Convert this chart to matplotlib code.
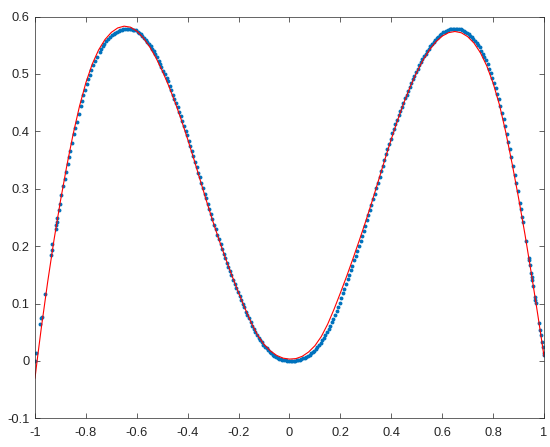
import matplotlib
matplotlib.use("Agg")
import matplotlib.pyplot as plt

plt.rcParams['font.family'] = ['Liberation Sans', 'DejaVu Sans']
plt.rcParams['axes.unicode_minus'] = False

# Sampled data points (blue dots)
dot_x = [
    -1.000, -0.996, -0.980, -0.976, -0.974, -0.961, -0.938, -0.935, -0.932, -0.919, -0.917, -0.915, -0.912, -0.906, -0.902,
    -0.896, -0.889, -0.884, -0.878, -0.872, -0.866, -0.861, -0.855, -0.847, -0.842, -0.836, -0.829,
    -0.821, -0.816, -0.810, -0.804, -0.797, -0.791, -0.785, -0.779, -0.771, -0.764, -0.757,
    -0.746, -0.739, -0.733, -0.728, -0.720, -0.713, -0.706, -0.697, -0.690, -0.684, -0.678,
    -0.671, -0.665, -0.659, -0.653, -0.646, -0.640, -0.634, -0.628, -0.621, -0.615, -0.609, -0.603,
    -0.596, -0.590, -0.583, -0.578, -0.571, -0.565, -0.558, -0.553, -0.546, -0.540, -0.534, -0.529,
    -0.521, -0.514, -0.508, -0.503, -0.496, -0.490, -0.483, -0.478, -0.471, -0.464, -0.457, -0.452,
    -0.446, -0.440, -0.434, -0.428, -0.421, -0.415, -0.408, -0.403, -0.396, -0.390, -0.384, -0.378,
    -0.371, -0.365, -0.358, -0.353, -0.346, -0.340, -0.333, -0.328, -0.321, -0.315, -0.309, -0.303,
    -0.296, -0.290, -0.283, -0.278, -0.271, -0.265, -0.258, -0.253, -0.246, -0.240, -0.234, -0.228,
    -0.221, -0.215, -0.209, -0.203, -0.196, -0.190, -0.184, -0.178, -0.171, -0.165, -0.159, -0.153,
    -0.146, -0.140, -0.134, -0.128, -0.121, -0.115, -0.109, -0.103, -0.096, -0.090, -0.084, -0.078,
    -0.071, -0.065, -0.059, -0.053, -0.046, -0.040, -0.034, -0.028, -0.021, -0.015, -0.009, -0.003,
    0.004, 0.010, 0.016, 0.022, 0.029, 0.035, 0.041, 0.047, 0.054, 0.060, 0.066, 0.072,
    0.079, 0.085, 0.091, 0.097, 0.104, 0.110, 0.116, 0.122, 0.129, 0.135, 0.141, 0.147,
    0.154, 0.160, 0.166, 0.172, 0.179, 0.185, 0.191, 0.197, 0.204, 0.210, 0.216, 0.222,
    0.229, 0.235, 0.241, 0.247, 0.254, 0.260, 0.266, 0.272, 0.279, 0.285, 0.291, 0.297,
    0.304, 0.310, 0.316, 0.322, 0.329, 0.335, 0.341, 0.347, 0.354, 0.360, 0.366, 0.372,
    0.379, 0.385, 0.391, 0.397, 0.404, 0.410, 0.416, 0.422, 0.429, 0.435, 0.441, 0.447,
    0.454, 0.460, 0.466, 0.472, 0.479, 0.485, 0.491, 0.497, 0.504, 0.510, 0.516, 0.522,
    0.529, 0.535, 0.541, 0.547, 0.554, 0.560, 0.566, 0.572, 0.579, 0.585, 0.591, 0.597,
    0.604, 0.610, 0.616, 0.622, 0.629, 0.635, 0.641, 0.647, 0.654, 0.660, 0.666, 0.672,
    0.679, 0.685, 0.691, 0.697, 0.704, 0.710, 0.716, 0.722, 0.729, 0.735, 0.741, 0.747,
    0.754, 0.760, 0.766, 0.772, 0.779, 0.785, 0.791, 0.797, 0.804, 0.810, 0.816, 0.822,
    0.829, 0.835, 0.841, 0.847, 0.854, 0.860, 0.866, 0.872, 0.879, 0.885, 0.891, 0.897,
    0.904, 0.908, 0.912, 0.916, 0.930, 0.941, 0.942, 0.945, 0.950, 0.952, 0.954, 0.958,
    0.964, 0.966, 0.968, 0.980, 0.985, 0.989, 0.993, 0.996, 0.999, 1.000,
]
dot_y = [
    0.000, 0.013, 0.064, 0.074, 0.076, 0.117, 0.185, 0.194, 0.203, 0.229, 0.236, 0.242, 0.249, 0.263, 0.274,
    0.2883, 0.3046, 0.3162, 0.330, 0.3434, 0.356, 0.3666, 0.3794, 0.3958, 0.4054, 0.4169, 0.4303,
    0.4446, 0.4528, 0.4626, 0.4724, 0.483, 0.4909, 0.4988, 0.5067, 0.5158, 0.5226, 0.5293,
    0.5389, 0.5439, 0.5482, 0.5518, 0.5566, 0.5602, 0.5639, 0.568, 0.5702, 0.5721, 0.574,
    0.5755, 0.5762, 0.5769, 0.5776, 0.578, 0.5782, 0.5784, 0.5785, 0.578, 0.5773, 0.5766, 0.5759,
    0.5739, 0.5716, 0.5688, 0.5668, 0.5631, 0.5597, 0.5557, 0.5528, 0.5479, 0.5436, 0.5392, 0.5355,
    0.5289, 0.5226, 0.5172, 0.5127, 0.5058, 0.4996, 0.4923, 0.4871, 0.4795, 0.4713, 0.4630, 0.4572,
    0.4500, 0.4422, 0.4345, 0.4268, 0.4177, 0.4094, 0.3999, 0.3930, 0.3834, 0.3747, 0.3660, 0.3574,
    0.3473, 0.3383, 0.3279, 0.3205, 0.3102, 0.3011, 0.2906, 0.2831, 0.2731, 0.2643, 0.2555, 0.2467,
    0.2375, 0.2292, 0.2195, 0.2126, 0.2033, 0.1955, 0.1864, 0.1799, 0.1711, 0.1638, 0.1565, 0.1492,
    0.1409, 0.1341, 0.1273, 0.1204, 0.1127, 0.1062, 0.0997, 0.0932, 0.086, 0.08, 0.074, 0.068,
    0.0615, 0.0562, 0.0509, 0.0456, 0.0404, 0.0364, 0.0324, 0.0285, 0.0246, 0.0217, 0.0188, 0.0159,
    0.0131, 0.0111, 0.0091, 0.007, 0.0053, 0.0042, 0.0031, 0.002, 0.0013, 0.0009, 0.0005, 0.0002,
    0.0001, 0.0002, 0.0003, 0.0004, 0.001, 0.0017, 0.0024, 0.0031, 0.0044, 0.0057, 0.007, 0.0083,
    0.0106, 0.0130, 0.0154, 0.0178, 0.0212, 0.0246, 0.0280, 0.0313, 0.0360, 0.0406, 0.0452, 0.0497,
    0.0558, 0.0616, 0.0674, 0.0731, 0.0806, 0.0876, 0.0946, 0.1015, 0.1101, 0.1178, 0.1255, 0.1332,
    0.1423, 0.1502, 0.1581, 0.1660, 0.1754, 0.1836, 0.1918, 0.1999, 0.2096, 0.2180, 0.2264, 0.2348,
    0.2451, 0.2542, 0.2633, 0.2724, 0.2822, 0.2916, 0.301, 0.3103, 0.3212, 0.3306, 0.34, 0.3493,
    0.3599, 0.3688, 0.3777, 0.3866, 0.3963, 0.4042, 0.4121, 0.42, 0.4286, 0.4356, 0.4426, 0.4495,
    0.4575, 0.4642, 0.4709, 0.4776, 0.485, 0.491, 0.497, 0.503, 0.5095, 0.5148, 0.5201, 0.5254,
    0.5309, 0.5352, 0.5395, 0.5438, 0.5484, 0.552, 0.5556, 0.5592, 0.5627, 0.5652, 0.5677, 0.5702,
    0.5725, 0.5739, 0.5753, 0.5768, 0.5777, 0.5781, 0.5785, 0.5788, 0.5788, 0.5784, 0.578, 0.5777,
    0.5765, 0.5751, 0.5737, 0.5722, 0.5697, 0.5669, 0.5641, 0.5614, 0.5575, 0.5538, 0.5501, 0.5464,
    0.5409, 0.5355, 0.5301, 0.5247, 0.5169, 0.5092, 0.5015, 0.4938, 0.4839, 0.4748, 0.4657, 0.4566,
    0.4443, 0.4328, 0.4213, 0.4098, 0.3952, 0.382, 0.3688, 0.3556, 0.3392, 0.3246, 0.31, 0.2953,
    0.276, 0.265, 0.2514, 0.2427, 0.2091, 0.1789, 0.175, 0.1672, 0.1528, 0.147, 0.1411, 0.1312,
    0.112, 0.107, 0.1005, 0.0657, 0.054, 0.0453, 0.0337, 0.0249, 0.014, 0.0105,
]

# Fitted curve (red line)
fit_x = [
    -1.000, -0.990, -0.975, -0.950, -0.925, -0.900, -0.875, -0.850, -0.825, -0.800,
    -0.775, -0.750, -0.725, -0.700, -0.675, -0.650, -0.625, -0.600, -0.575, -0.550,
    -0.525, -0.500, -0.475, -0.450, -0.425, -0.400, -0.375, -0.350, -0.325, -0.300,
    -0.275, -0.250, -0.225, -0.200, -0.175, -0.150, -0.125, -0.100, -0.075, -0.050,
    -0.025, 0.000, 0.025, 0.050, 0.075, 0.100, 0.125, 0.150, 0.175, 0.200,
    0.225, 0.250, 0.275, 0.300, 0.325, 0.350, 0.375, 0.400, 0.425, 0.450,
    0.475, 0.500, 0.525, 0.550, 0.575, 0.600, 0.625, 0.650, 0.675, 0.700,
    0.725, 0.750, 0.775, 0.800, 0.825, 0.850, 0.875, 0.900, 0.925, 0.950,
    0.975, 0.990, 1.000,
]
fit_y = [
    -0.030, 0.006, 0.058, 0.138, 0.2115, 0.2786, 0.340, 0.3954, 0.444, 0.4849,
    0.5173, 0.5419, 0.560, 0.5725, 0.5802, 0.5833, 0.5816, 0.5747, 0.5632, 0.5477,
    0.5285, 0.5057, 0.4798, 0.4512, 0.4199, 0.3862, 0.3506, 0.3137, 0.2770, 0.2417,
    0.2086, 0.1772, 0.1473, 0.1187, 0.0916, 0.0662, 0.0446, 0.0287, 0.0174, 0.0095,
    0.0048, 0.0032, 0.0040, 0.0080, 0.0155, 0.0265, 0.0425, 0.0640, 0.0900, 0.1185,
    0.1480, 0.1790, 0.2110, 0.2440, 0.2788, 0.3150, 0.3514, 0.3865, 0.4198, 0.4505,
    0.4784, 0.5030, 0.5244, 0.5420, 0.5560, 0.5660, 0.5720, 0.5740, 0.5718, 0.5651,
    0.5538, 0.5371, 0.5142, 0.4841, 0.4462, 0.3980, 0.3430, 0.2840, 0.2210, 0.1530,
    0.0820, 0.0380, 0.0080,
]

x_ticks = [-1, -0.8, -0.6, -0.4, -0.2, 0, 0.2, 0.4, 0.6, 0.8, 1]
x_labels = ['-1', '-0.8', '-0.6', '-0.4', '-0.2', '0', '0.2', '0.4', '0.6', '0.8', '1']
y_ticks = [-0.1, 0, 0.1, 0.2, 0.3, 0.4, 0.5, 0.6]
y_labels = ['-0.1', '0', '0.1', '0.2', '0.3', '0.4', '0.5', '0.6']

fig = plt.figure(figsize=(5.5, 4.47), dpi=100)
ax = fig.add_axes([0.0636, 0.0642, 0.9255, 0.8987])

ax.plot(dot_x, dot_y, linestyle='none', marker='o', markersize=2.8,
        markeredgewidth=0, color=(0, 0.447, 0.741))
ax.plot(fit_x, fit_y, color='red', lw=0.8)

ax.set_xlim(-1, 1)
ax.set_ylim(-0.1, 0.6)
ax.set_xticks(x_ticks)
ax.set_xticklabels(x_labels)
ax.set_yticks(y_ticks)
ax.set_yticklabels(y_labels)

ax.tick_params(direction='in', top=True, right=True, length=3.6, width=0.5,
               color='#262626', labelcolor='#262626', labelsize=9.3)
ax.tick_params(axis='x', pad=6)
ax.tick_params(axis='y', pad=4)
for sp in ax.spines.values():
    sp.set_color('#262626')
    sp.set_linewidth(0.5)

fig.savefig('out.png', dpi=100)
